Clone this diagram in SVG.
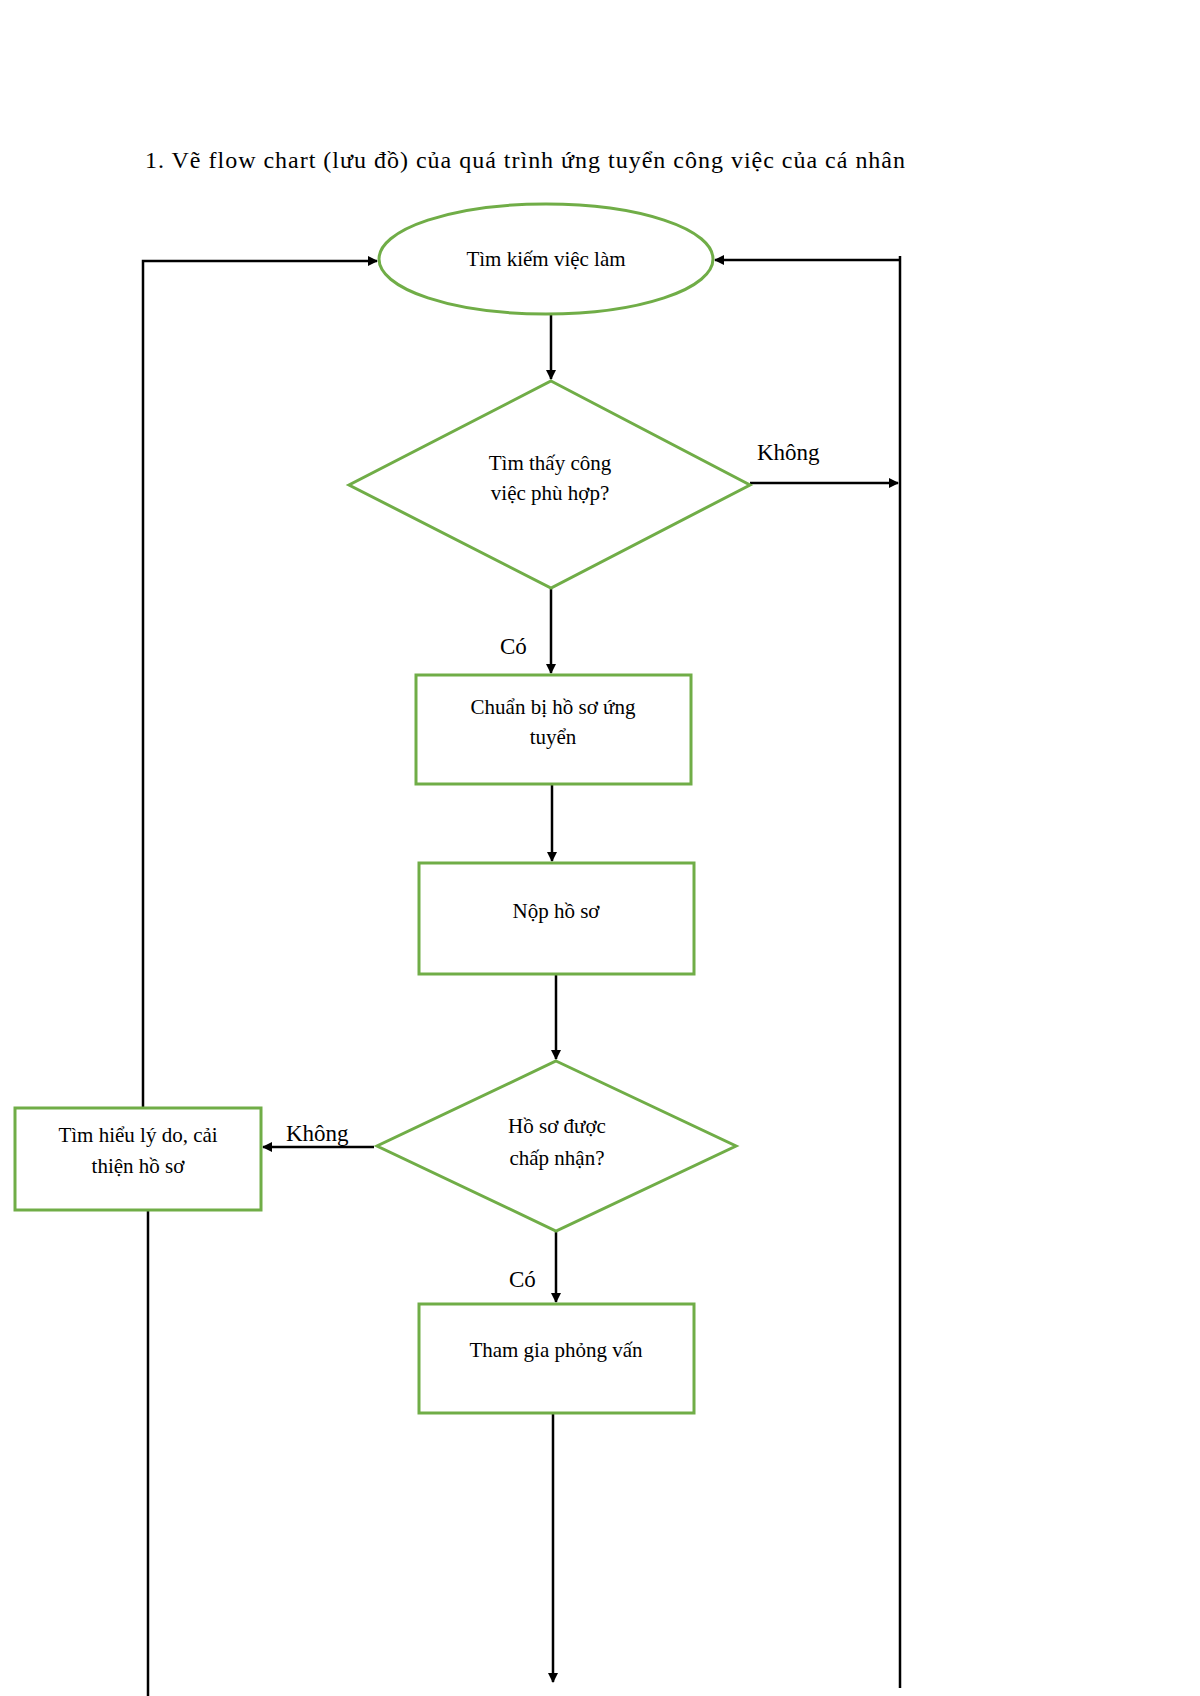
<svg xmlns="http://www.w3.org/2000/svg" width="1200" height="1696" viewBox="0 0 1200 1696">
<style>
.n{fill:#fff;stroke:#70ad47;stroke-width:3}
.t{font-family:"Liberation Serif","Times New Roman",serif;font-size:21px;fill:#000;text-anchor:middle}
.l{font-family:"Liberation Serif","Times New Roman",serif;font-size:23px;fill:#000}
.c{fill:none;stroke:#000;stroke-width:2.5}
</style>
<defs>
<marker id="a" markerWidth="10" markerHeight="10" refX="9" refY="5" orient="auto" markerUnits="userSpaceOnUse"><path d="M0,0 L10,5 L0,10 z" fill="#000"/></marker>
</defs>
<rect width="1200" height="1696" fill="#fff"/>
<text x="145" y="168" font-family="Liberation Serif,Times New Roman,serif" font-size="24" textLength="760">1. Vẽ flow chart (lưu đồ) của quá trình ứng tuyển công việc của cá nhân</text>
<g id="connectors">
<path class="c" d="M143,1210 V261 H377" marker-end="url(#a)"/>
<path class="c" d="M148,1210 V1696"/>
<path class="c" d="M900,256 V1688"/>
<path class="c" d="M900,260 H715" marker-end="url(#a)"/>
<path class="c" d="M551,314 V379" marker-end="url(#a)"/>
<path class="c" d="M750,483 H898" marker-end="url(#a)"/>
<path class="c" d="M551,588 V673" marker-end="url(#a)"/>
<path class="c" d="M552,784 V861" marker-end="url(#a)"/>
<path class="c" d="M556,974 V1059" marker-end="url(#a)"/>
<path class="c" d="M374,1147 H263" marker-end="url(#a)"/>
<path class="c" d="M556,1231 V1302" marker-end="url(#a)"/>
<path class="c" d="M553,1413 V1682" marker-end="url(#a)"/>
<text class="l" x="757" y="460">Không</text>
<text class="l" x="500" y="654">Có</text>
<text class="l" x="286" y="1141">Không</text>
<text class="l" x="509" y="1287">Có</text>
</g>
<g id="start"><ellipse class="n" cx="546" cy="259" rx="167" ry="55"/><text class="t" x="546" y="266">Tìm kiếm việc làm</text></g>
<g id="d1"><polygon class="n" points="551,381 750,485 551,588 349,485"/><text class="t" x="550" y="470">Tìm thấy công</text><text class="t" x="550" y="500">việc phù hợp?</text></g>
<g id="r1"><rect class="n" x="416" y="675" width="275" height="109"/><text class="t" x="553" y="714">Chuẩn bị hồ sơ ứng</text><text class="t" x="553" y="744">tuyển</text></g>
<g id="r2"><rect class="n" x="419" y="863" width="275" height="111"/><text class="t" x="556" y="918">Nộp hồ sơ</text></g>
<g id="d2"><polygon class="n" points="556,1061 736,1146 556,1231 377,1146"/><text class="t" x="557" y="1133">Hồ sơ được</text><text class="t" x="557" y="1165">chấp nhận?</text></g>
<g id="r3"><rect class="n" x="15" y="1108" width="246" height="102"/><text class="t" x="138" y="1142">Tìm hiểu lý do, cải</text><text class="t" x="138" y="1173">thiện hồ sơ</text></g>
<g id="r4"><rect class="n" x="419" y="1304" width="275" height="109"/><text class="t" x="556" y="1357">Tham gia phỏng vấn</text></g>
</svg>
